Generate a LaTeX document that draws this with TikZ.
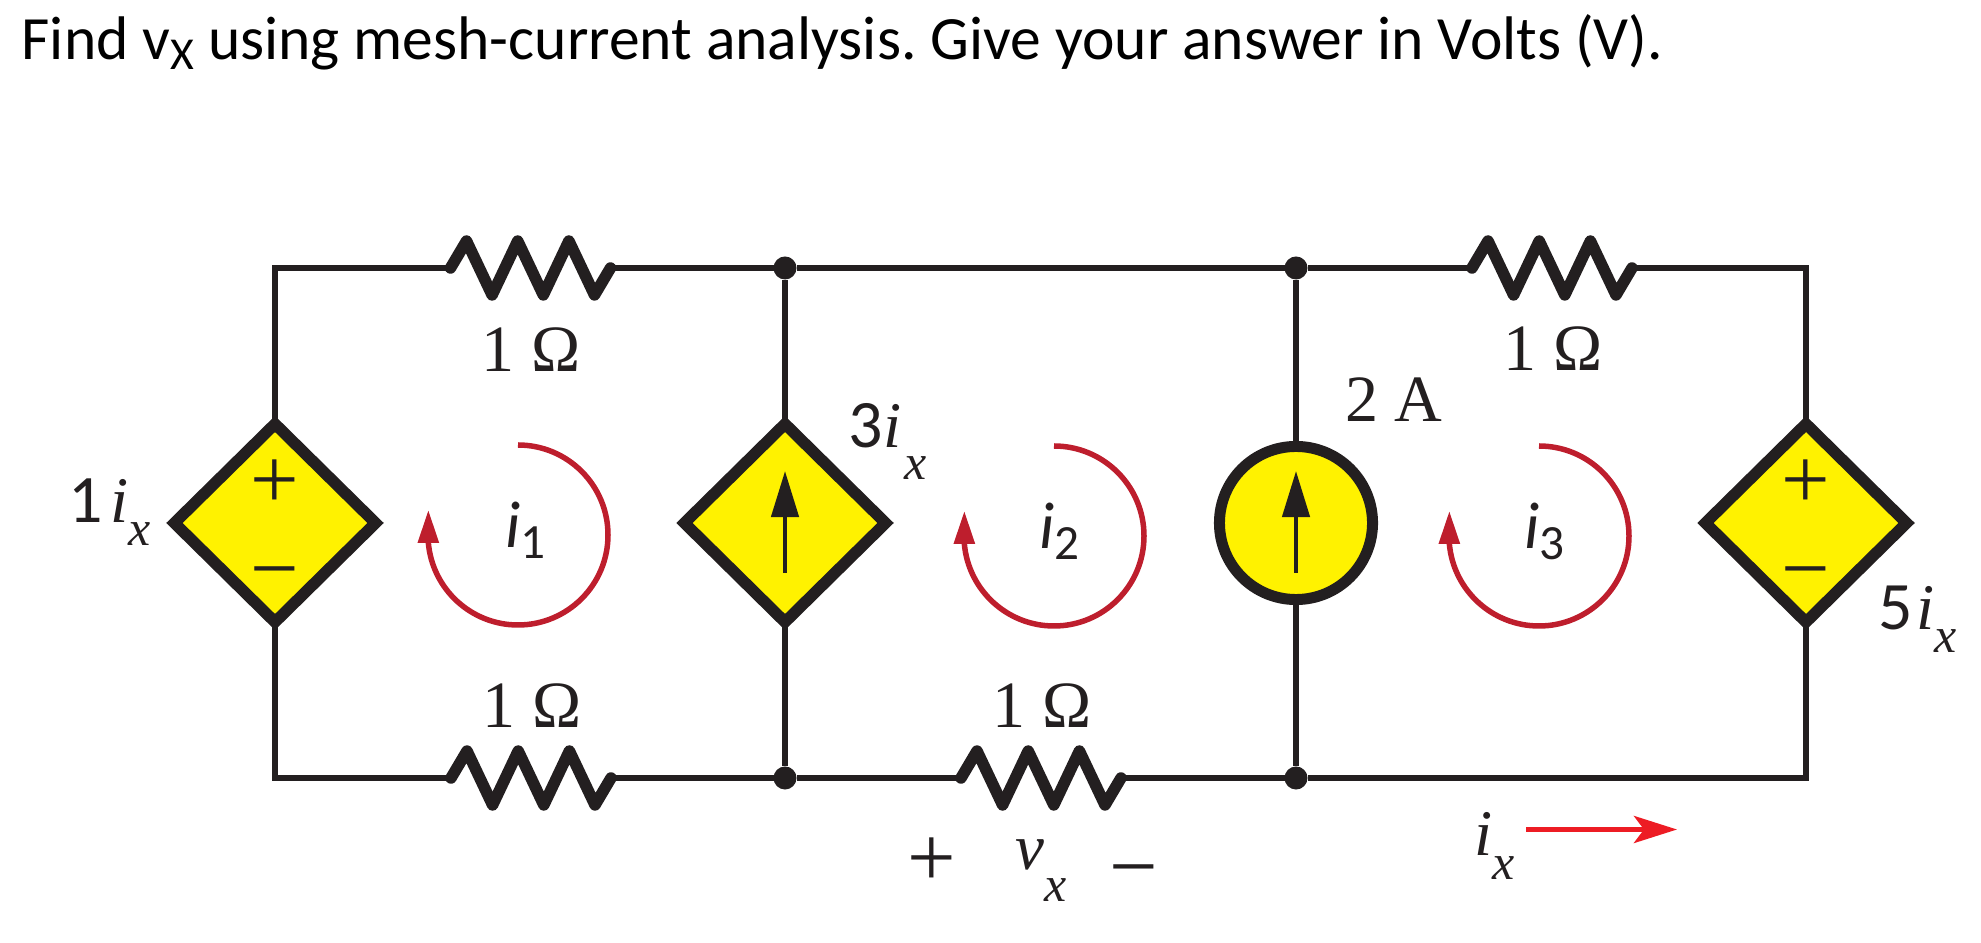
\documentclass[tikz,border=0pt]{standalone}
\usepackage{fontspec}
\setmainfont{Liberation Serif}
\newfontfamily\sansfam{Carlito}
\usetikzlibrary{calc,arrows.meta,shapes.geometric}
\frenchspacing
\definecolor{ink}{HTML}{231F20}
\definecolor{srcyellow}{HTML}{FFF200}
\definecolor{meshred}{HTML}{BE1E2D}
\definecolor{flowred}{HTML}{ED1C24}
\newcommand{\lowx}[1]{\raisebox{-#1}{\fontsize{14.2}{15}\selectfont\itshape x}}
\newcommand{\ampi}{{\fontsize{18.5}{20}\selectfont\itshape i}}
\newcommand{\gaindig}[1]{{\sansfam\fontsize{19.3}{20}\selectfont #1}}
\newcommand{\meshi}[1]{{\sansfam\fontsize{18.8}{20}\selectfont\itshape i\raisebox{-.1cm}{\fontsize{14}{14}\selectfont\upshape #1}}}
\tikzset{
    wire/.style={line width=.55mm,draw=ink},
    resistor/.style={line width=1.15mm,draw=ink,line join=round,line cap=round},
    depsrc/.style={diamond,draw=ink,fill=srcyellow,line width=1.15mm,minimum width=2.01cm,minimum height=1.98cm,inner sep=0,outer sep=0},
    indsrc/.style={circle,draw=ink,fill=srcyellow,line width=1.1mm,minimum size=1.53cm,inner sep=0,outer sep=0},
    jointdot/.style={circle,fill=ink,minimum size=.23cm,inner sep=0,outer sep=0},
    srcarrow/.style={line width=.45mm,draw=ink,fill=ink,-{Triangle[length=.46cm,width=.27cm]}},
    meshloop/.style={line width=.55mm,draw=meshred,-{Triangle[length=.33cm,width=.2cm,fill=meshred]}},
    lab/.style={inner sep=0,text=ink,font=\fontsize{18.8}{20}\selectfont},
    signlab/.style={inner sep=0,text=ink,anchor=base,font=\fontsize{24.5}{25}\selectfont},
}
\begin{document}
\begin{tikzpicture}[x=.01cm,y=.01cm]
    \path [use as bounding box] (0,0) rectangle (1981,942);
    \coordinate (R1-l) at (450.5,674);
    \coordinate (R1-r) at (610.5,674);
    \coordinate (R2-l) at (451,164);
    \coordinate (R2-r) at (611,164);
    \coordinate (R3-l) at (961,164);
    \coordinate (R3-r) at (1121,164);
    \coordinate (R4-l) at (1472,674);
    \coordinate (R4-r) at (1632,674);
    \coordinate (M1) at (518,407);
    \coordinate (M2) at (1054,406);
    \coordinate (M3) at (1539,406);
    \node [depsrc] (S1) at (275,419) {};
    \node [depsrc] (S2) at (785,419) {};
    \node [indsrc] (S3) at (1296,419) {};
    \node [depsrc] (S4) at (1806,419) {};
    \node [jointdot] (N1) at (785,674) {};
    \node [jointdot] (N2) at (1296,674) {};
    \node [jointdot] (N3) at (785,164) {};
    \node [jointdot] (N4) at (1296,164) {};
    \draw [wire] (S1) |- (R1-l) (R1-r) -- (N1) -- (N2) -- (R4-l) (R4-r) -| (S4);
    \draw [wire] (S1) |- (R2-l) (R2-r) -- (N3) -- (R3-l) (R3-r) -- (N4) -| (S4);
    \draw [wire] (N1) -- (S2) -- (N3) (N2) -- (S3) -- (N4);
    \foreach \r in {R1,R2,R3,R4}
        \draw [resistor] (\r-l) -- ++(16,27) -- ++(25.6,-54) -- ++(25.6,54) -- ++(25.6,-54) -- ++(25.6,54) -- ++(25.6,-54) -- (\r-r);
    \foreach \s in {S2,S3}
        \draw [srcarrow] (\s) ++(0,-50) -- ++(0,102);
    \foreach \m in {M1,M2,M3}
        \draw [meshloop] (\m) ++(0,90) arc (90:-175:90) -- ++(0,33);
    \coordinate (F1) at (1526,112.5);
    \coordinate (F2) at (1677,112.5);
    \draw [line width=.5mm,draw=flowred,-{Stealth[length=.43cm,width=.27cm,inset=.1cm]}] (F1) -- (F2);
    \node [signlab] (P1) at (275,433) {+};
    \node [signlab] (Q1) at (275,344) {−};
    \node [signlab] (P4) at (1806,433) {+};
    \node [signlab] (Q4) at (1806,344) {−};
    \node [signlab] (Pv) at (932,55) {+};
    \node [signlab] (Qv) at (1134,46) {−};
    \node [lab,anchor=base] (LR1) at (531,570) {1 Ω};
    \node [lab,anchor=base] (LR2) at (532,214) {1 Ω};
    \node [lab,anchor=base] (LR3) at (1042,214) {1 Ω};
    \node [lab,anchor=base] (LR4) at (1553,571) {1 Ω};
    \node [lab,anchor=base] (LS3) at (1394,520) {2 A};
    \node [lab,anchor=base west] (LS1) at (68,419) {\gaindig{1}\kern2pt\ampi\lowx{.22cm}};
    \node [lab,anchor=base west] (LS2) at (848,494) {\gaindig{3}\ampi\kern1pt\lowx{.31cm}};
    \node [lab,anchor=base west] (LS4) at (1878,312) {\gaindig{5}\kern1pt\ampi\lowx{.22cm}};
    \node [lab,anchor=base west] (Lix) at (1474,87) {\ampi\lowx{.24cm}};
    \node [lab,anchor=base west] (Lvx) at (1015,72) {{\fontsize{18.5}{20}\selectfont\itshape v}\lowx{.31cm}};
    \node [lab,anchor=base west] (LM1) at (505,394) {\meshi{1}};
    \node [lab,anchor=base west] (LM2) at (1039,393) {\meshi{2}};
    \node [lab,anchor=base west] (LM3) at (1524,393) {\meshi{3}};
    \node [inner sep=0,anchor=base west,text=black,font=\sansfam\fontsize{17.5}{18}\selectfont] (Title) at (21,882)
        {Find v\raisebox{-.1cm}{\fontsize{13}{13}\selectfont X} using mesh-current analysis. Give your answer in Volts (V).};
\end{tikzpicture}
\end{document}
